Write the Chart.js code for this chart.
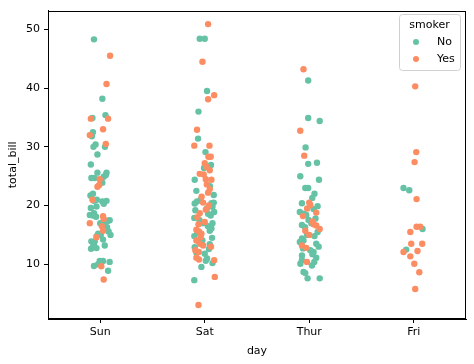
<!DOCTYPE html>
<html>
<head>
<meta charset="utf-8">
<script src="https://cdn.jsdelivr.net/npm/chart.js@4.4.0/dist/chart.umd.min.js"></script>
<style>
html,body{margin:0;padding:0;background:#fff;}
canvas{display:block;}
</style>
</head>
<body>
<canvas id="c" width="474" height="364"></canvas>
<script>
// ---- data ----
const days = ["Sun", "Sat", "Thur", "Fri"];
const hueLevels = ["No", "Yes"];
const yTicks = [10, 20, 30, 40, 50];

// total_bill values, per day and smoker level
const sunNo = [48.3,38.2,35.4,34.9,32.5,31.8,30.4,30.0,30.0,28.7,27.0,25.6,25.6,24.7,24.7,24.9,25.2,23.9,21.7,22.0,20.8,20.7,20.8,19.6,19.85,18.4,18.3,18.7,17.4,17.0,17.5,16.6,16.3,15.6,15.0,15.0,15.2,14.2,13.9,13.9,13.2,12.65,12.75,13.4,10.55,10.55,10.4,9.7,10.0,8.9,16.9,20.3,21.0,14.8,13.0,18.1,17.2];
const sunNoJit = [-0.06,0.02,0.05,-0.075,-0.07,-0.08,-0.045,-0.065,0.045,-0.027,-0.09,-0.027,0.06,-0.085,-0.053,0.033,0.053,0.02,-0.094,-0.07,-0.06,0.02,0.06,-0.09,-0.036,-0.1,-0.07,-0.06,0.075,0.0,0.09,0.046,0.065,0.08,0.098,0.005,-0.02,0.027,-0.085,-0.053,0.043,-0.088,-0.036,-0.06,-0.005,0.027,0.09,-0.06,-0.02,0.075,0.025,0.034,-0.033,-0.035,-0.07,-0.04,0.05];
const sunYes = [45.5,40.7,34.8,34.8,33.0,32.0,30.5,23.2,23.5,21.0,18.2,17.7,17.0,15.7,14.6,9.66,7.4,24.5,16.5];
const sunYesJit = [0.094,0.06,-0.09,0.075,0.027,-0.1,0.053,-0.027,-0.01,-0.075,0.027,0.033,-0.1,0.027,-0.036,0.01,0.033,-0.005,0.015];

const satNo = [48.4,48.4,39.5,36.0,31.4,29.1,26.4,24.4,21.8,20.35,20.7,20.4,20.5,19.8,17.9,18.6,18.3,17.0,17.0,16.1,15.7,14.8,14.05,13.4,12.9,11.8,11.0,10.2,9.55,7.3,22.5,23.3,21.0,19.2,19.5,18.9,17.5,16.5,15.4,14.5,13.8,12.6,12.0,10.6,26.9];
const satNoJit = [-0.048,0.0,0.022,-0.06,-0.064,0.007,-0.007,-0.096,0.086,-0.096,-0.074,0.064,0.086,0.074,-0.1,0.032,0.057,-0.016,0.074,0.064,0.048,-0.1,-0.022,0.048,-0.096,0.0,0.022,0.074,-0.032,-0.1,-0.08,0.05,-0.04,-0.09,0.02,0.09,-0.05,0.03,-0.07,0.07,-0.05,0.04,-0.08,0.01,0.06];
const satYes = [50.9,44.5,38.8,38.1,32.9,30.2,30.2,28.3,28.3,27.2,26.6,26.0,25.4,25.3,24.4,24.5,22.8,22.2,20.5,18.7,15.9,15.6,15.2,14.05,13.5,13.2,12.1,11.1,10.8,10.7,7.85,3.07,23.6,21.5,19.3,18.0,17.2,16.8,14.6,13.0,12.4,20.0];
const satYesJit = [0.032,-0.022,0.09,0.032,-0.074,-0.1,0.045,0.035,0.057,0.0,0.016,0.048,-0.048,-0.01,0.064,0.01,0.048,0.032,-0.016,-0.048,-0.08,-0.055,-0.032,-0.08,-0.048,-0.016,-0.057,-0.08,-0.055,0.09,0.096,-0.06,0.02,-0.03,0.01,-0.07,0.0,-0.06,-0.04,0.06,-0.09,0.04];

const thurNo = [41.3,34.9,34.4,29.9,27.1,27.3,25.0,24.4,23.0,23.0,21.3,20.4,19.4,18.6,18.4,17.55,16.7,14.4,14.05,12.4,12.1,13.5,11.5,11.1,10.7,10.4,9.8,8.7,8.5,7.6,7.6,22.0,19.9,18.9,17.8,17.0,16.3,15.5,15.0,14.8,13.8,13.0,12.7,11.7,10.1];
const thurNoJit = [-0.01,-0.01,0.1,-0.035,-0.01,0.074,-0.086,0.093,-0.038,-0.01,0.029,-0.07,0.041,-0.055,-0.029,-0.007,-0.07,-0.07,-0.055,0.01,0.041,0.067,-0.07,0.067,-0.07,0.048,0.026,-0.055,-0.038,-0.016,0.1,0.05,0.08,-0.09,0.06,0.02,-0.04,0.08,-0.02,0.05,-0.09,0.09,-0.06,0.03,-0.085];
const thurYes = [43.2,32.75,28.5,20.5,20.1,18.8,16.8,16.6,16.0,15.7,13.2,12.8,10.4,19.5,17.3,15.0,18.2];
const thurYesJit = [-0.055,-0.086,-0.048,0.0,0.01,0.067,0.041,0.067,0.1,-0.038,-0.07,-0.029,-0.022,-0.02,0.03,0.0,-0.06];

const friNo = [23.0,22.6,16.0,12.5];
const friNoJit = [-0.098,-0.043,0.084,-0.072];
const friYes = [40.3,29.1,27.4,21.1,16.4,16.4,15.5,13.5,13.5,12.1,12.25,11.35,10.1,8.65,5.8];
const friYesJit = [0.014,0.024,0.008,0.027,0.027,0.062,-0.033,-0.024,0.081,-0.098,0.036,-0.033,0.005,0.053,0.014];

const noByDay = [[sunNo, sunNoJit], [satNo, satNoJit], [thurNo, thurNoJit], [friNo, friNoJit]];
const yesByDay = [[sunYes, sunYesJit], [satYes, satYesJit], [thurYes, thurYesJit], [friYes, friYesJit]];

const colors = ["#66c2a5", "#fc8d62"];

function buildPoints(groups) {
  const pts = [];
  groups.forEach((g, i) => {
    g[0].forEach((v, k) => pts.push({ x: i + g[1][k], y: v }));
  });
  return pts;
}

const FONT = "DejaVu Sans";
const FS = 11;

const framePlugin = {
  id: "frame",
  afterDraw(chart) {
    const { ctx, chartArea: a } = chart;
    ctx.save();
    ctx.strokeStyle = "#000";
    ctx.lineWidth = 1;
    ctx.strokeRect(Math.round(a.left) + 0.5, Math.round(a.top) + 0.5, Math.round(a.right - a.left) - 1, Math.round(a.bottom - a.top) - 1);
    // legend
    const bx = 399.5, by = 14.5, bw = 61, bh = 56, r = 3;
    ctx.beginPath();
    ctx.moveTo(bx + r, by);
    ctx.lineTo(bx + bw - r, by);
    ctx.arcTo(bx + bw, by, bx + bw, by + r, r);
    ctx.lineTo(bx + bw, by + bh - r);
    ctx.arcTo(bx + bw, by + bh, bx + bw - r, by + bh, r);
    ctx.lineTo(bx + r, by + bh);
    ctx.arcTo(bx, by + bh, bx, by + bh - r, r);
    ctx.lineTo(bx, by + r);
    ctx.arcTo(bx, by, bx + r, by, r);
    ctx.closePath();
    ctx.fillStyle = "rgba(255,255,255,0.8)";
    ctx.fill();
    ctx.strokeStyle = "#d0d0d0";
    ctx.stroke();
    ctx.fillStyle = "#000";
    ctx.font = FS + "px '" + FONT + "'";
    ctx.textBaseline = "middle";
    ctx.textAlign = "center";
    ctx.fillText("smoker", 429.5, 25);
    ctx.textAlign = "left";
    hueLevels.forEach((h, i) => {
      const y = 42 + i * 17;
      ctx.beginPath();
      ctx.arc(416, y, 3, 0, Math.PI * 2);
      ctx.fillStyle = colors[i];
      ctx.fill();
      ctx.fillStyle = "#000";
      ctx.fillText(h, 437, y + 0.5);
    });
    ctx.restore();
  }
};

new Chart(document.getElementById("c"), {
  type: "scatter",
  data: {
    datasets: [
      { label: hueLevels[0], data: buildPoints(noByDay), backgroundColor: colors[0], borderWidth: 0, pointRadius: 3.2, order: 1 },
      { label: hueLevels[1], data: buildPoints(yesByDay), backgroundColor: colors[1], borderWidth: 0, pointRadius: 3.2, order: 0 }
    ]
  },
  options: {
    responsive: false,
    devicePixelRatio: 1,
    animation: false,
    layout: { padding: { left: 0, top: 7, right: 8, bottom: 0 } },
    plugins: { legend: { display: false }, tooltip: { enabled: false } },
    scales: {
      x: {
        type: "linear",
        min: -0.5,
        max: 3.5,
        afterBuildTicks: s => { s.ticks = days.map((d, i) => ({ value: i })); },
        afterFit: s => { s.height = 45; },
        ticks: { callback: v => days[v], color: "#000", font: { family: FONT, size: FS }, padding: 3, maxRotation: 0, autoSkip: false },
        grid: { display: true, drawOnChartArea: false, drawTicks: true, tickLength: 4, color: "#000" },
        border: { display: true, color: "#000", width: 1 },
        title: { display: true, text: "day", color: "#000", font: { family: FONT, size: FS }, padding: { top: 0, bottom: 6 } }
      },
      y: {
        type: "linear",
        min: 0.68,
        max: 53.2,
        afterBuildTicks: s => { s.ticks = yTicks.map(v => ({ value: v })); },
        afterFit: s => { s.width = 48; },
        ticks: { color: "#000", font: { family: FONT, size: FS }, padding: 4 },
        grid: { display: true, drawOnChartArea: false, drawTicks: true, tickLength: 4, color: "#000" },
        border: { display: true, color: "#000", width: 1 },
        title: { display: true, text: "total_bill", color: "#000", font: { family: FONT, size: FS }, padding: { top: 7, bottom: 0 } }
      }
    }
  },
  plugins: [framePlugin]
});
</script>
</body>
</html>
